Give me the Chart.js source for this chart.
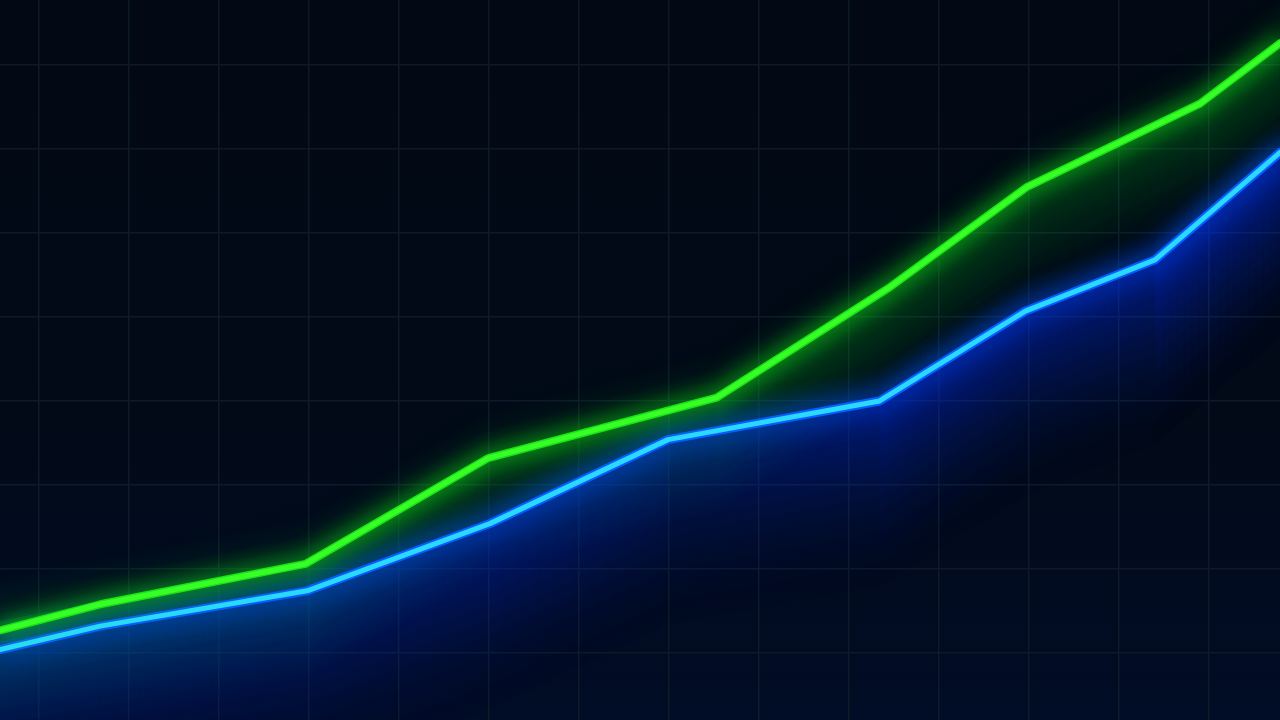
<!DOCTYPE html>
<html>
<head>
<meta charset="utf-8">
<script src="https://cdn.jsdelivr.net/npm/chart.js@4/dist/chart.umd.min.js"></script>
<style>
  html, body { margin: 0; padding: 0; background: #020a17; overflow: hidden; }
  #wrap { width: 1280px; height: 720px; position: relative; }
</style>
</head>
<body>
<div id="wrap"><canvas id="growth"></canvas></div>
<script>
// values (arbitrary units, one grid cell = 10)
const greenX = [-4.3, 6.8, 29.6, 49.9, 75.3, 94.6, 109.8, 129.0, 137.9]
const greenY = [2.7, 5.8, 10.6, 23.2, 30.4, 43.6, 55.5, 65.4, 72.6]
const blueX = [-4.3, 6.8, 29.8, 50.1, 69.9, 93.4, 109.6, 124.0, 137.9]
const blueY = [0.4, 3.2, 7.4, 15.4, 25.4, 30.0, 40.7, 46.8, 59.6]

const xRange = [-4.33, 137.89]
const yRange = [-7.98, 77.74]
const gridStep = 10

const toPoints = (xs, ys) => xs.map((x, i) => ({ x, y: ys[i] }))

// soft haze that follows a line, smeared up or down
function smear(ctx, pts, rgb, maxDist, alpha0, dir) {
  ctx.save()
  ctx.lineJoin = 'round'
  ctx.lineWidth = 4
  for (let d = 0; d <= maxDist; d += 2) {
    const a = alpha0 * Math.pow(1 - d / maxDist, 2)
    ctx.strokeStyle = 'rgba(' + rgb + ',' + a.toFixed(3) + ')'
    ctx.beginPath()
    pts.forEach((p, i) => {
      const y = p.y + d * dir
      i === 0 ? ctx.moveTo(p.x - 40, y) : ctx.lineTo(p.x, y)
    })
    const last = pts[pts.length - 1]
    ctx.lineTo(last.x + 40, last.y + d * dir)
    ctx.stroke()
  }
  ctx.restore()
}

// grid lines only on whole cells
const cellTicks = scale => {
  scale.ticks = []
  for (let v = 0; v <= scale.max; v += gridStep) scale.ticks.push({ value: v })
}

const backdrop = {
  id: 'backdrop',
  beforeDraw(chart) {
    const { ctx, width, height } = chart
    const g = ctx.createLinearGradient(0, 0, 0, height)
    g.addColorStop(0, '#020914')
    g.addColorStop(0.6, '#020a18')
    g.addColorStop(1, '#010c26')
    ctx.save()
    ctx.fillStyle = g
    ctx.fillRect(0, 0, width, height)
    ctx.restore()
  },
  beforeDatasetsDraw(chart) {
    const ctx = chart.ctx
    chart.data.datasets.forEach((ds, i) => {
      if (!ds.haze) return
      const pts = chart.getDatasetMeta(i).data.map(p => ({ x: p.x, y: p.y }))
      ds.haze.forEach(h => smear(ctx, pts, h.rgb, h.dist, h.alpha, h.dir))
    })
  },
  beforeDatasetDraw(chart, args) {
    const ds = chart.data.datasets[args.index]
    if (!ds.glow) return
    chart.ctx.save()
    chart.ctx.shadowColor = ds.glow
    chart.ctx.shadowBlur = ds.glowBlur
  },
  afterDatasetDraw(chart, args) {
    const ds = chart.data.datasets[args.index]
    if (ds.glow) chart.ctx.restore()
  }
}

new Chart(document.getElementById('growth'), {
  type: 'line',
  data: {
    datasets: [
      {
        data: toPoints(blueX, blueY),
        borderColor: '#0a5cff',
        borderWidth: 9,
        order: 4,
        glow: '#0048ff',
        glowBlur: 28,
        haze: [
          { rgb: '0,50,255', dist: 200, alpha: 0.25, dir: 1 },
          { rgb: '0,110,255', dist: 40, alpha: 0.16, dir: -1 }
        ]
      },
      {
        data: toPoints(blueX, blueY),
        borderColor: '#2ad9ff',
        borderWidth: 5,
        order: 3
      },
      {
        data: toPoints(greenX, greenY),
        borderColor: '#18e418',
        borderWidth: 8,
        order: 2,
        glow: '#10ff10',
        glowBlur: 22,
        haze: [
          { rgb: '0,190,30', dist: 150, alpha: 0.16, dir: 1 },
          { rgb: '0,190,30', dist: 70, alpha: 0.08, dir: -1 }
        ]
      },
      {
        data: toPoints(greenX, greenY),
        borderColor: '#38ff26',
        borderWidth: 5,
        order: 1
      }
    ]
  },
  options: {
    responsive: true,
    maintainAspectRatio: false,
    animation: false,
    events: [],
    layout: { padding: 0 },
    elements: {
      point: { radius: 0 },
      line: { tension: 0, borderJoinStyle: 'round', borderCapStyle: 'round' }
    },
    plugins: { legend: { display: false }, tooltip: { enabled: false } },
    scales: {
      x: {
        type: 'linear',
        min: xRange[0],
        max: xRange[1],
        afterBuildTicks: cellTicks,
        border: { display: false },
        ticks: { display: false, padding: 0 },
        grid: { color: '#0f1a29', lineWidth: 1.5, drawTicks: false }
      },
      y: {
        min: yRange[0],
        max: yRange[1],
        afterBuildTicks: cellTicks,
        border: { display: false },
        ticks: { display: false, padding: 0 },
        grid: { color: '#0f1a29', lineWidth: 1.5, drawTicks: false }
      }
    }
  },
  plugins: [backdrop]
})
</script>
</body>
</html>
